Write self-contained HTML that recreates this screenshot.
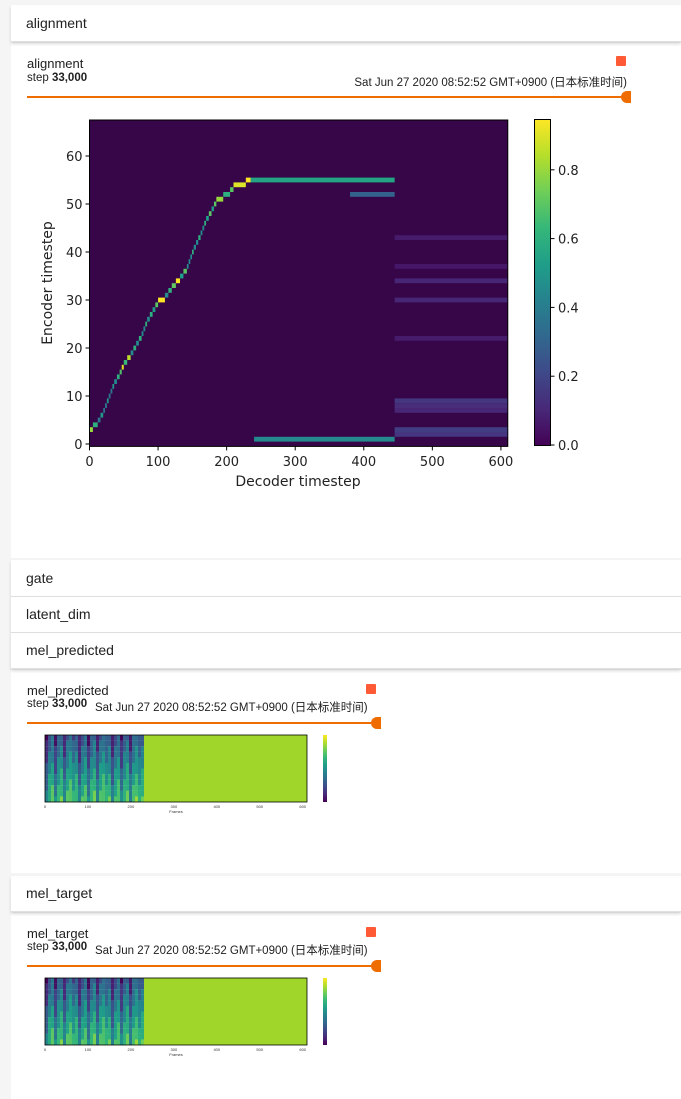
<!DOCTYPE html>
<html><head><meta charset="utf-8">
<style>
body{margin:0;width:681px;height:1099px;background:#f5f5f5;font-family:"Liberation Sans","Noto Sans CJK SC",sans-serif;overflow:hidden;position:relative;color:#212121}
.hdr{position:absolute;left:11px;right:0;background:#fff;font-size:14px;padding-left:15px;box-sizing:border-box;box-shadow:0 2px 3px rgba(0,0,0,.15);border-bottom:1px solid #e0e0e0}
.body{position:absolute;left:11px;right:0;background:#fff}
.t{position:absolute;font-size:13px}
.s{position:absolute;font-size:11.5px;white-space:nowrap}
.bar{position:absolute;height:2px;background:#ef6c00}
.knob{position:absolute;width:10px;height:12px;border-radius:6px 0 0 6px;background:#ef6c00}
.red{position:absolute;width:10px;height:10px;background:#ff5a36;border-radius:1px}
</style></head><body>
<div class="body" style="top:43px;height:515px"></div>
<div class="hdr" style="top:5px;height:37px;line-height:36px">alignment</div>
<div class="t" style="left:27px;top:56px">alignment</div>
<div class="s" style="left:27px;top:72px">step <b>33,000</b></div>
<div class="s" style="right:54px;top:74px">Sat Jun 27 2020 08:52:52 GMT+0900 (日本标准时间)</div>
<div class="red" style="left:616px;top:56px"></div>
<div class="bar" style="left:27px;width:597px;top:96px"></div>
<div class="knob" style="left:621px;top:91px"></div>

<svg id="chart" style="position:absolute;left:0;top:0" width="681" height="560"></svg>

<div class="body" style="top:670px;height:203px"></div>
<div class="body" style="top:913px;height:186px"></div>
<div class="hdr" style="top:560px;height:37px;line-height:36px">gate</div>
<div class="hdr" style="top:597px;height:36px;line-height:35px">latent_dim</div>
<div class="hdr" style="top:633px;height:36px;line-height:35px">mel_predicted</div>
<div class="t" style="left:27px;top:683px">mel_predicted</div>
<div class="s" style="left:27px;top:698px">step <b>33,000</b></div>
<div class="s" style="left:95px;top:699px">Sat Jun 27 2020 08:52:52 GMT+0900 (日本标准时间)</div>
<div class="red" style="left:366px;top:684px"></div>
<div class="bar" style="left:27px;width:347px;top:722px"></div>
<div class="knob" style="left:371px;top:717px"></div>

<div class="hdr" style="top:876px;height:36px;line-height:35px">mel_target</div>
<div class="t" style="left:27px;top:926px">mel_target</div>
<div class="s" style="left:27px;top:941px">step <b>33,000</b></div>
<div class="s" style="left:95px;top:942px">Sat Jun 27 2020 08:52:52 GMT+0900 (日本标准时间)</div>
<div class="red" style="left:366px;top:927px"></div>
<div class="bar" style="left:27px;width:347px;top:965px"></div>
<div class="knob" style="left:371px;top:960px"></div>

<svg id="mels" style="position:absolute;left:0;top:0" width="681" height="1099"></svg>

<script>
// alignment path: [decoderStart, decoderEnd, encoderIndex(end), weight]
const segStart=[0,5,12,20,28,36,44,50,60,68,76,84,92,100,110,120,132,142,152,162,170,178,185,195,205,210,228];
const segEnd=  [5,12,20,28,36,44,50,60,68,76,84,92,100,110,120,132,142,152,162,170,178,185,195,205,210,228,235];
const segEnc=  [3,4,6,9,12,14,16,18,20,22,25,27,29,30,32,34,36,40,43,46,48,50,51,52,53,54,55];
const segVal=  [0.8,0.6,0.5,0.5,0.5,0.6,0.9,0.85,0.6,0.6,0.6,0.6,0.7,0.95,0.6,0.95,0.7,0.6,0.6,0.6,0.7,0.7,0.8,0.6,0.7,0.9,0.95];
// horizontal bands after the path
const bandStart=[235,240,380,445,445,445,445,445,445,445,445,445,445];
const bandEnd=  [445,445,445,610,610,610,610,610,610,610,610,610,610];
const bandEnc=  [55,1,52,2,3,7,8,9,22,30,34,37,43];
const bandVal=  [0.55,0.45,0.3,0.15,0.17,0.1,0.12,0.15,0.07,0.1,0.1,0.06,0.07];
const xTicks=[0,100,200,300,400,500,600];
const yTicks=[0,10,20,30,40,50,60];
const cbTicks=[0.0,0.2,0.4,0.6,0.8];
const vmax=0.947;

const VIR=[[68,1,84],[72,40,120],[62,73,137],[49,104,142],[38,130,142],[31,158,137],[53,183,121],[110,206,88],[181,222,43],[253,231,37]];
function viridis(v){v=Math.max(0,Math.min(1,v));const f=v*9,i=Math.min(8,Math.floor(f)),t=f-i;const a=VIR[i],b=VIR[i+1];return `rgb(${a.map((c,k)=>Math.round(c+(b[k]-c)*t)).join(',')})`;}
const NS='http://www.w3.org/2000/svg';
function el(p,tag,attrs,txt){const e=document.createElementNS(NS,tag);for(const k in attrs)e.setAttribute(k,attrs[k]);if(txt!==undefined)e.textContent=txt;p.appendChild(e);return e;}
const X0=89.5,PX=0.6857,Y0=444,PY=4.8;
const sx=d=>X0+d*PX, sy=e=>Y0-e*PY;
const svg=document.getElementById('chart');
const bg=el(svg,'rect',{x:sx(0),y:sy(67.5),width:sx(610)-sx(0),height:sy(-0.5)-sy(67.5),fill:'rgb(54,6,72)'});


function cell(d0,d1,e,v){
  const r=el(svg,'rect',{x:sx(d0),y:sy(e+0.5),width:Math.max(0.8,sx(d1)-sx(d0)),height:PY,fill:viridis(v/vmax)});
  
  
}
for(let i=0;i<bandStart.length;i++) cell(bandStart[i],bandEnd[i],bandEnc[i],bandVal[i]);
for(let i=0;i<segStart.length;i++){
  const prev=i?segEnc[i-1]:segEnc[0]-1;
  const n=Math.max(1,segEnc[i]-prev);
  const w=(segEnd[i]-segStart[i])/n;
  for(let k=0;k<n;k++){
    const e=prev+1+k;
    const v=(k===n-1)?segVal[i]:segVal[i]*0.75;
    cell(segStart[i]+k*w,segStart[i]+(k+1)*w,e,v);
  }
}
el(svg,'rect',{x:sx(0),y:sy(67.5),width:sx(610)-sx(0),height:sy(-0.5)-sy(67.5),fill:'none',stroke:'#000','stroke-width':1});
xTicks.forEach(t=>{el(svg,'line',{x1:sx(t),x2:sx(t),y1:sy(-0.5),y2:sy(-0.5)+4,stroke:'#000'});
  const tx=el(svg,'text',{x:sx(t),y:466,'text-anchor':'middle','font-size':13,fill:'#222','font-family':'DejaVu Sans, sans-serif'},t);
  
  });
yTicks.forEach(t=>{el(svg,'line',{x1:sx(0)-4,x2:sx(0),y1:sy(t),y2:sy(t),stroke:'#000'});
  const tx=el(svg,'text',{x:sx(0)-7,y:sy(t)+5,'text-anchor':'end','font-size':13,fill:'#222','font-family':'DejaVu Sans, sans-serif'},t);
  
  });
const xl=el(svg,'text',{x:298,y:486,'text-anchor':'middle','font-size':14,fill:'#222','font-family':'DejaVu Sans, sans-serif'},'Decoder timestep');


const yl=el(svg,'text',{x:0,y:0,transform:'translate(52,283) rotate(-90)','text-anchor':'middle','font-size':14,fill:'#222','font-family':'DejaVu Sans, sans-serif'},'Encoder timestep');


const CB0=445,CBS=344;
const defs=el(svg,'defs',{});const g=el(defs,'linearGradient',{id:'vg',x1:0,y1:1,x2:0,y2:0});
VIR.forEach((c,i)=>el(g,'stop',{offset:i/9,'stop-color':`rgb(${c})`}));
const cb=el(svg,'rect',{x:534.5,y:119.5,width:16,height:326,fill:'url(#vg)',stroke:'#000'});


cbTicks.forEach(t=>{const y=CB0-t*CBS;el(svg,'line',{x1:550.5,x2:554.5,y1:y,y2:y,stroke:'#000'});
  const tx=el(svg,'text',{x:558,y:y+5,'font-size':13,fill:'#222','font-family':'DejaVu Sans, sans-serif'},t.toFixed(1));
  
  });

const mels=document.getElementById('mels');
const mdefs=el(mels,'defs',{});
function mel(top,name){
  const grp=el(mels,'g',{});
  
  
  const L=45,W=262,H=67,split=144;
  const rows=12,rh=H/rows;
  for(let i=0;i<33;i++){const x=L+i*3;const v=((i*37)%11)/11;
    for(let r=0;r<rows;r++){
      const base=0.12+0.45*(r/rows);
      const w=((i*13+r*7)%9)/9;
      el(grp,'rect',{x:x,y:top+r*rh,width:3.1,height:rh+0.1,fill:viridis(base+v*0.2+w*0.15-(v<0.2?0.15:0))});
    }}
  el(grp,'rect',{x:split,y:top,width:L+W-split,height:H,fill:'#a0d62a'});
  el(grp,'rect',{x:L,y:top,width:W,height:H,fill:'none',stroke:'#000','stroke-width':0.8});
  const gid='mg'+top;const gg=el(mdefs,'linearGradient',{id:gid,x1:0,y1:1,x2:0,y2:0});
  VIR.forEach((c,i)=>el(gg,'stop',{offset:i/9,'stop-color':`rgb(${c})`}));
  el(grp,'rect',{x:323,y:top,width:4,height:H,fill:'url(#'+gid+')'});
  [0,100,200,300,400,500,600].forEach(t=>el(grp,'text',{x:L+t*W/610,y:top+H+6,'font-size':4,'text-anchor':'middle',fill:'#333'},t));
  el(grp,'text',{x:L+W/2,y:top+H+11,'font-size':4,'text-anchor':'middle',fill:'#333'},'Frames');
}
mel(735,'mel-predicted-image');
mel(978,'mel-target-image');
</script>
</body></html>
